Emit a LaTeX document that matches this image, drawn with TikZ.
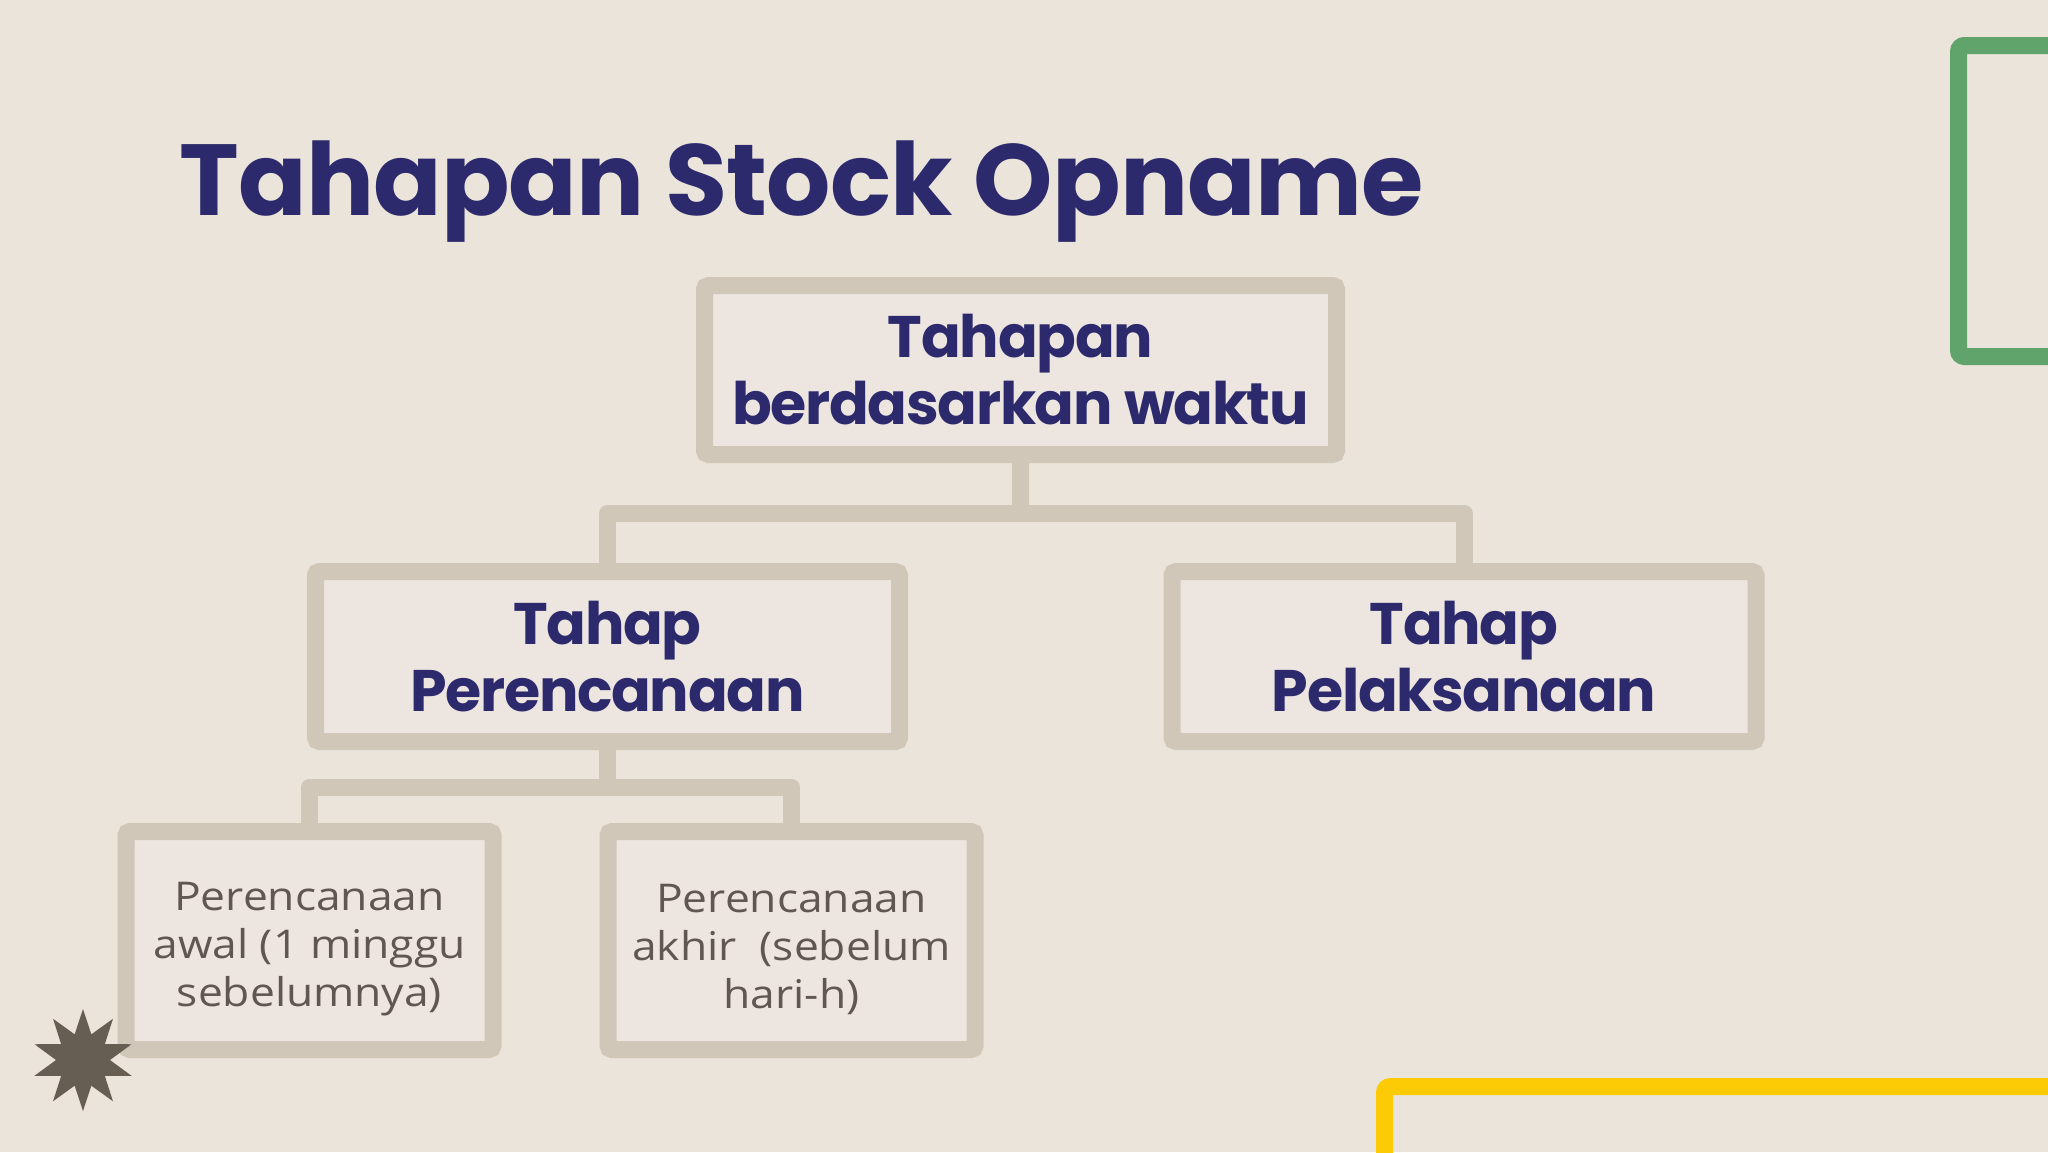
\documentclass[tikz,border=0pt]{standalone}
\usepackage{fontspec}
\newfontfamily\popfont{Poppins}
\newfontfamily\poptitle{Poppins}[LetterSpace=-0.8]
\newfontfamily\popbox{Poppins}[LetterSpace=-2.2]
\newfontfamily\bodyfont{Open Sans}[FakeStretch=1.12]
\definecolor{bgc}{HTML}{EBE4DA}
\definecolor{boxfill}{HTML}{EDE6E0}
\definecolor{boxline}{HTML}{D0C7B9}
\definecolor{navy}{HTML}{2C2A6C}
\definecolor{textgray}{HTML}{5F5750}
\definecolor{starc}{HTML}{665E53}
\definecolor{greenc}{HTML}{60A36B}
\definecolor{yellowc}{HTML}{FDCA06}
\tikzset{
  stagebox/.style={draw=boxline, fill=boxfill, line width=8.5pt, rounded corners=2pt,
    inner sep=0pt, align=center, text=navy,
    font=\popbox\bfseries\fontsize{29.3pt}{33.5pt}\selectfont},
  bigbox/.style={stagebox, minimum width=316pt, minimum height=84.5pt},
  midbox/.style={stagebox, minimum width=292pt, minimum height=85pt},
  smallbox/.style={stagebox, minimum width=183.5pt, minimum height=109pt,
    text=textgray, font=\bodyfont\fontsize{19.8pt}{24pt}\selectfont},
  conn/.style={draw=boxline, line width=8.5pt, line join=round},
  frame/.style={line width=8.5pt, rounded corners=3pt}
}
\begin{document}
\begin{tikzpicture}[x=0.5pt,y=-0.5pt]
\useasboundingbox (0,0) rectangle (2048,1152);
\fill[bgc] (0,0) rectangle (2048,1152);
\clip (0,0) rectangle (2048,1152);
% decorative frames
\draw[frame, greenc] (2080,45.5) -- (1958.5,45.5) -- (1958.5,356.5) -- (2080,356.5);
\draw[frame, yellowc] (1384.5,1180) -- (1384.5,1086.5) -- (2080,1086.5);
% title
\node[anchor=base west, inner sep=0pt, text=navy, font=\poptitle\bfseries\fontsize{50.5pt}{60pt}\selectfont] (title) at (179,215) {Tahapan Stock Opname};
% boxes
\node[bigbox] (top) at (1020.5,370) {Tahapan\\berdasarkan waktu};
\node[midbox] (plan) at (607.5,656.5) {Tahap\\Perencanaan};
\node[midbox] (exec) at (1464,656.5) {Tahap\\Pelaksanaan};
\node[smallbox] (early) at (309.5,940.5) {\rule{0pt}{23pt}Perencanaan\\awal (1 minggu\\sebelumnya)};
\node[smallbox] (late) at (791.5,940.5) {\rule{0pt}{23pt}Perencanaan\\akhir\ \ (sebelum\\hari-h)};
% connectors
\coordinate (busA) at (0,513.5);
\coordinate (busB) at (0,787);
\draw[conn] (top.south) -- (top.south |- busA);
\draw[conn] (plan.north) -- (plan.north |- busA) -| (exec.north);
\draw[conn] (plan.south) -- (plan.south |- busB);
\draw[conn] (early.north) -- (early.north |- busB) -| (late.north);
% star
\fill[starc] plot[samples=21, domain=0:20, variable=\k]
  ({83+ (mod(\k,2)==0 ? 51 : 27)*cos(90+18*\k)}, {1060 - (mod(\k,2)==0 ? 51 : 27)*sin(90+18*\k)}) -- cycle;
\end{tikzpicture}
\end{document}
